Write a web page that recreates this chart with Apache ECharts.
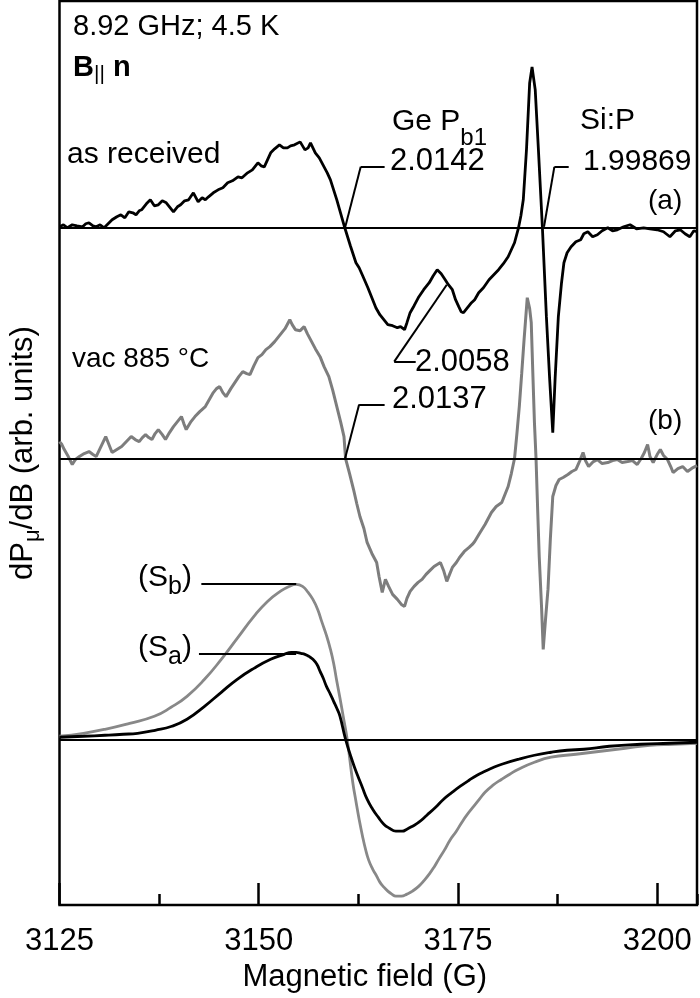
<!DOCTYPE html>
<html><head><meta charset="utf-8">
<script src="https://cdn.jsdelivr.net/npm/echarts@6/dist/echarts.min.js"></script>
<style>html,body{margin:0;padding:0;background:#fff}#c{width:700px;height:998px}</style>
</head><body><div id="c"></div>
<script>
// ---- data (magnetic field in G, signal in arb. units relative to each trace's zero line) ----
const fieldA = [3125.0,3125.5,3126.0,3126.6,3127.2,3127.9,3128.3,3128.7,3129.2,3129.6,3130.1,3130.6,3131.1,3131.6,3132.2,3132.7,3133.2,3133.7,3134.2,3134.6,3135.0,3135.3,3135.9,3136.4,3136.9,3137.4,3137.9,3138.4,3138.9,3139.3,3139.8,3140.2,3140.7,3141.2,3141.8,3142.4,3142.9,3143.3,3143.7,3144.3,3144.9,3145.5,3146.1,3146.7,3147.4,3147.9,3148.6,3149.2,3149.9,3150.3,3150.7,3151.1,3151.5,3152.0,3152.6,3153.1,3153.6,3154.0,3154.5,3155.2,3155.8,3156.2,3156.5,3156.8,3157.1,3157.6,3158.2,3158.6,3159.0,3159.4,3159.8,3160.3,3160.8,3161.5,3162.2,3162.6,3163.1,3163.7,3164.3,3164.7,3165.2,3165.7,3166.2,3166.8,3167.4,3167.8,3168.3,3168.6,3169.0,3169.5,3170.1,3170.7,3171.4,3171.9,3172.4,3172.9,3173.4,3173.8,3174.3,3174.7,3175.1,3175.4,3175.7,3176.2,3176.7,3177.1,3177.6,3178.2,3178.9,3179.5,3180.1,3180.7,3181.3,3181.7,3182.1,3182.6,3182.9,3183.2,3183.6,3184.0,3184.3,3184.7,3185.1,3185.6,3186.1,3186.5,3186.9,3187.2,3187.6,3188.0,3188.3,3188.7,3189.2,3189.8,3190.4,3190.8,3191.3,3191.9,3192.5,3193.1,3193.8,3194.4,3195.0,3195.8,3196.6,3197.4,3198.3,3199.1,3200.0,3200.8,3201.6,3202.3,3202.9,3203.5,3204.1,3204.6,3205.0];
const signalA = [1,3,0,3,2,1,4,5,2,1,3,0,4,8,11,13,10,16,15,13,17,18,24,28,22,23,27,25,20,16,21,23,27,28,35,26,30,28,31,35,38,40,45,47,51,50,55,58,65,62,61,68,75,79,83,80,80,82,83,86,78,80,85,80,75,70,61,55,48,38,28,14,0,-18,-35,-40,-49,-60,-72,-80,-87,-92,-97,-98,-100,-99,-102,-95,-85,-78,-69,-62,-55,-48,-42,-46,-52,-57,-62,-72,-79,-84,-85,-80,-75,-72,-65,-60,-52,-47,-42,-36,-29,-22,-15,0,12,28,78,145,161,138,78,0,-89,-150,-205,-150,-89,-55,-35,-25,-19,-14,-12,-6,-4,-9,-7,-3,0,-3,-2,1,3,-1,0,-1,-2,-4,-9,-3,-2,-6,-9,-3,-4];

const fieldB = [3125.0,3125.3,3125.6,3126.1,3126.6,3127.0,3127.5,3128.1,3128.7,3129.2,3129.6,3130.2,3130.8,3131.2,3131.6,3132.2,3132.8,3133.4,3134.0,3134.5,3135.0,3135.4,3135.8,3136.2,3136.6,3137.0,3137.4,3137.9,3138.3,3138.8,3139.3,3139.8,3140.3,3140.6,3140.9,3141.5,3142.0,3142.6,3143.3,3143.8,3144.3,3144.7,3145.1,3145.5,3145.9,3146.5,3147.0,3147.5,3148.0,3148.5,3148.9,3149.4,3149.9,3150.4,3150.9,3151.4,3152.0,3152.4,3152.7,3153.3,3153.9,3154.2,3154.6,3155.2,3155.7,3156.1,3156.5,3157.1,3157.7,3158.2,3158.8,3159.3,3159.8,3160.3,3160.7,3160.9,3161.4,3161.9,3162.3,3162.7,3163.2,3163.6,3164.2,3164.8,3165.1,3165.5,3165.9,3166.3,3166.8,3167.4,3167.9,3168.3,3168.6,3169.0,3169.5,3170.0,3170.5,3171.0,3171.5,3172.0,3172.4,3172.8,3173.2,3173.6,3174.0,3174.3,3174.8,3175.2,3175.8,3176.4,3176.8,3177.1,3177.7,3178.4,3178.8,3179.2,3179.8,3180.5,3180.9,3181.3,3181.7,3182.1,3182.4,3182.7,3183.0,3183.3,3183.7,3184.0,3184.2,3184.4,3184.6,3184.8,3185.0,3185.2,3185.5,3185.7,3186.0,3186.3,3186.6,3186.9,3187.3,3187.7,3188.2,3188.8,3189.3,3189.8,3190.3,3190.7,3191.0,3191.4,3192.0,3192.5,3193.1,3193.8,3194.4,3195.0,3195.6,3196.3,3196.9,3197.5,3198.0,3198.4,3198.8,3199.1,3199.5,3200.0,3200.4,3200.8,3201.3,3201.7,3202.0,3202.6,3203.2,3203.8,3204.5,3205.0];
const signalB = [17,14,9,2,-6,-1,2,5,7,4,2,12,22,14,6,9,12,17,22,19,17,21,24,21,19,25,29,24,19,26,32,37,42,35,29,37,42,47,52,59,66,70,72,66,62,70,76,82,87,85,84,93,101,104,109,112,117,121,124,130,139,134,129,128,132,125,119,110,102,92,82,68,52,36,22,0,-15,-31,-45,-58,-70,-84,-95,-104,-118,-134,-121,-128,-136,-141,-146,-148,-140,-133,-128,-124,-121,-116,-112,-108,-106,-104,-112,-123,-115,-109,-104,-99,-93,-89,-86,-83,-75,-66,-60,-54,-48,-44,-36,-28,-15,0,25,52,85,119,161,150,136,85,36,0,-50,-98,-150,-191,-160,-131,-80,-38,-27,-21,-19,-16,-13,-11,-2,6,-2,-8,-3,-1,-5,-4,-2,-1,-4,-3,-2,-6,0,6,14,2,-4,4,9,3,-1,-8,-14,-10,-8,-13,-9,-7];

const fieldSa = [3125.0,3128.0,3130.7,3133.0,3134.8,3137.0,3139.1,3141.0,3143.2,3145.3,3147.3,3149.4,3151.5,3153.2,3154.1,3154.7,3155.3,3155.8,3156.3,3156.8,3157.3,3157.7,3158.1,3158.5,3159.0,3159.4,3159.8,3160.2,3160.9,3161.8,3162.4,3163.0,3163.6,3164.3,3165.0,3165.7,3166.4,3167.2,3168.0,3168.6,3169.3,3170.1,3171.1,3172.2,3173.2,3174.3,3175.3,3176.4,3177.4,3178.4,3179.5,3180.5,3182.6,3184.6,3186.7,3188.7,3190.8,3194.0,3197.9,3201.5,3205.0];
const signalSa = [2,3,4,5,6,9,13,20,33,47,60,71,80,85,87,87,86,85,83,80,75,68,61,53,45,38,31,23,0,-23,-36,-48,-60,-70,-78,-85,-89,-92,-92,-90,-87,-83,-76,-68,-60,-53,-47,-41,-36,-32,-28,-25,-20,-16,-13,-11,-10,-7,-5,-4,-3];

const fieldSb = [3125.0,3128.0,3130.7,3133.8,3136.9,3139.0,3141.0,3143.2,3145.3,3147.3,3149.4,3151.1,3152.7,3153.8,3154.7,3155.5,3156.2,3156.8,3157.4,3157.9,3158.5,3159.0,3159.4,3159.8,3160.2,3160.6,3161.1,3161.8,3162.2,3162.6,3163.0,3163.4,3163.8,3164.3,3164.8,3165.2,3165.7,3166.2,3166.7,3167.2,3167.9,3168.6,3169.3,3170.1,3170.8,3171.4,3172.0,3172.6,3173.3,3174.0,3174.8,3175.5,3176.2,3177.0,3177.7,3178.4,3179.4,3180.5,3181.5,3182.6,3184.6,3186.7,3189.8,3192.9,3196.0,3199.1,3202.0,3205.0];
const signalSb = [3,6,10,16,23,32,43,60,80,101,123,138,148,153,155,153,147,140,130,118,104,90,76,58,41,23,0,-43,-62,-80,-96,-110,-121,-130,-137,-143,-148,-152,-155,-157,-157,-155,-152,-147,-141,-135,-128,-120,-111,-101,-92,-83,-75,-67,-60,-53,-46,-40,-35,-30,-23,-18,-15,-12,-9,-6,-5,-4];

const xTicks = [3125, 3150, 3175, 3200];

// ---- vertical offsets of the stacked traces (arb. units) ----
const offA = 678, offB = 447, offS = 166;

const FONT = 'Liberation Sans, Arial, Helvetica, sans-serif';
const pts = (xs, ys, off) => xs.map((x, i) => [x, ys[i] + off]);
const seg = (p) => p.slice(1).map((q, i) => [{coord: p[i]}, {coord: q}]);

const chart = echarts.init(document.getElementById('c'), null, {renderer: 'canvas'});

const leaderStyle = {color: '#000', width: 2, type: 'solid'};
const txt = (x, y, text, fs, extra) => ({
  type: 'text', x: x, y: y, z: 50,
  style: Object.assign({text: text, fontSize: fs, fontFamily: FONT, fill: '#000', align: 'left', verticalAlign: 'middle'}, extra || {})
});
const subRich = (fsMain, fsSub, pad) => ({
  n: {fontSize: fsMain, fontFamily: FONT, fill: '#000'},
  s: {fontSize: fsSub, fontFamily: FONT, fill: '#000', padding: [pad, 0, 0, 0]}
});

chart.setOption({
  animation: false,
  backgroundColor: '#fff',
  grid: {left: 54, right: 3, top: 1, bottom: 92, show: true, borderColor: '#000', borderWidth: 2.5, backgroundColor: 'transparent'},
  xAxis: [{
    type: 'value', min: 3125, max: 3205, interval: 25,
    name: 'Magnetic field (G)', nameLocation: 'middle', nameGap: 53,
    nameTextStyle: {fontSize: 31, fontFamily: FONT, color: '#000', padding: [0, 27, 0, 0]},
    axisLine: {show: false},
    axisTick: {show: true, inside: true, length: 22, lineStyle: {color: '#000', width: 2.5}},
    minorTick: {show: false},
    axisLabel: {fontSize: 31, fontFamily: FONT, color: '#000', margin: 21, showMaxLabel: false,
      formatter: v => xTicks.indexOf(v) >= 0 ? String(v) : ''},
    splitLine: {show: false}
  }, {
    type: 'value', min: 3125, max: 3205, interval: 12.5, position: 'bottom',
    axisLine: {show: false},
    axisTick: {show: true, inside: true, length: 11, lineStyle: {color: '#000', width: 2.5}},
    axisLabel: {show: false}, splitLine: {show: false}
  }],
  yAxis: {
    type: 'value', min: 0, max: 905,
    name: '{t|dP}{s|μ}{t|/dB (arb. units)}', nameLocation: 'middle', nameRotate: 90, nameGap: 16,
    nameTextStyle: {rich: {
      t: {fontSize: 31, fontFamily: FONT, color: '#000'},
      s: {fontSize: 22, fontFamily: FONT, color: '#000', padding: [18, 0, 0, 0]}
    }},
    axisLine: {show: false}, axisTick: {show: false}, axisLabel: {show: false}, splitLine: {show: false}
  },
  series: [
    {
      name: 'as received', type: 'line', showSymbol: false, data: pts(fieldA, signalA, offA),
      lineStyle: {color: '#000', width: 2.8}, z: 5,
      markLine: {silent: true, symbol: ['none', 'none'], label: {show: false}, lineStyle: leaderStyle,
        data: [{yAxis: offA}]
          .concat(seg([[3160.8, offA - 1], [3162.8, offA + 61], [3165.8, offA + 61]]))
          .concat(seg([[3185.8, offA + 1], [3187.1, offA + 61], [3188.9, offA + 61]]))
          .concat(seg([[3173.6, offA - 57], [3167.0, offA - 134], [3169.7, offA - 134]]))
      }
    },
    {
      name: 'vac 885 °C', type: 'line', showSymbol: false, data: pts(fieldB, signalB, offB),
      lineStyle: {color: '#7d7d7d', width: 3}, z: 4,
      markLine: {silent: true, symbol: ['none', 'none'], label: {show: false}, lineStyle: leaderStyle,
        data: [{yAxis: offB}]
          .concat(seg([[3160.8, offB - 1], [3162.6, offB + 54], [3165.8, offB + 54]]))
      }
    },
    {
      name: 'Sb', type: 'line', showSymbol: false, smooth: true, data: pts(fieldSb, signalSb, offS),
      lineStyle: {color: '#888', width: 2.8}, z: 4,
      markLine: {silent: true, symbol: ['none', 'none'], label: {show: false}, lineStyle: leaderStyle,
        data: [{yAxis: offS}]
          .concat(seg([[3142.8, offS + 156], [3154.7, offS + 156]]))
          .concat(seg([[3142.5, offS + 86], [3154.7, offS + 86]]))
      }
    },
    {
      name: 'Sa', type: 'line', showSymbol: false, smooth: true, data: pts(fieldSa, signalSa, offS),
      lineStyle: {color: '#000', width: 2.8}, z: 5
    }
  ],
  graphic: [
    txt(73, 27, '8.92 GHz; 4.5 K', 29),
    txt(73, 68, '{b|B}{s|||}{b| n}', 29, {rich: {
      b: {fontSize: 29, fontWeight: 'bold', fontFamily: FONT, fill: '#000'},
      s: {fontSize: 21, fontFamily: FONT, fill: '#000', padding: [12, 0, 0, 0]}
    }}),
    txt(67, 154.5, 'as received', 30),
    txt(392, 121.5, '{n|Ge P}{s|b1}', 30, {rich: subRich(30, 24, 34)}),
    txt(390, 161.5, '2.0142', 31),
    txt(580, 120.5, 'Si:P', 30),
    txt(583, 161.5, '1.99869', 30),
    txt(648, 201.5, '(a)', 28),
    txt(648, 421.5, '(b)', 28),
    txt(72, 359.5, 'vac 885 °C', 28),
    txt(415, 362.5, '2.0058', 31),
    txt(392, 399.5, '2.0137', 31),
    txt(138, 577.5, '{n|(S}{s|b}{n|)}', 30, {rich: subRich(30, 25, 20)}),
    txt(138, 647.5, '{n|(S}{s|a}{n|)}', 30, {rich: subRich(30, 25, 20)})
  ]
});
</script>
</body></html>
